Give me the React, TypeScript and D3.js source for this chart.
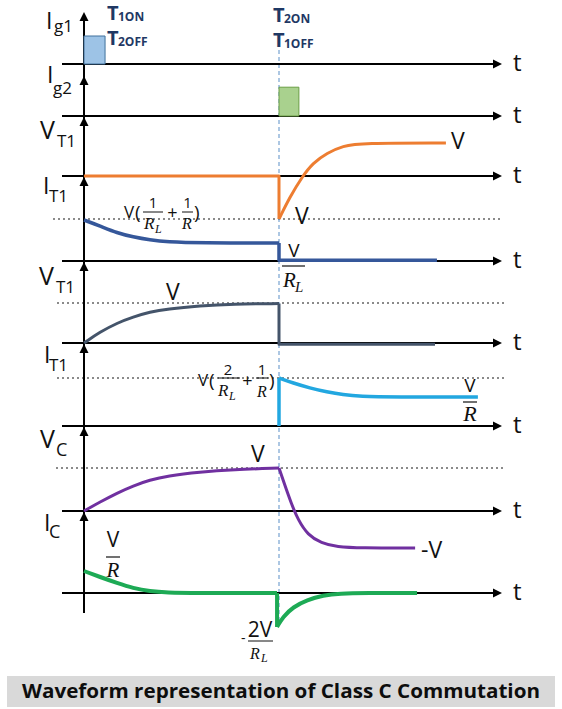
import React from "react";
import * as d3 from "d3";

type Pt = [number, number];

// ---------- data (time in arbitrary units, amplitude normalised) ----------
const panelMain = ["I", "I", "V", "I", "V", "I", "V", "I"];
const panelSub = ["g1", "g2", "T1", "T1", "T1", "T1", "C", "C"];

const switchTime = 5;

const ig1Pulse: Pt[] = [[0, 0], [0, 0.7], [0.54, 0.7], [0.54, 0]];
const ig2Pulse: Pt[] = [[5, 0], [5, 0.72], [5.51, 0.72], [5.51, 0]];

// panel 2: V_T1 (orange)
const vt1OnState: Pt[] = [[0, 0], [5, 0], [5, -1.075]];
const vt1Recovery: Pt[] = [[5, -1.075], [5.28, -0.525], [5.59, -0.025], [5.87, 0.325], [6.23, 0.575], [6.64, 0.75], [7.1, 0.825], [9.28, 0.825]];

// panel 3: I_T1 (blue)
const it1Decay: Pt[] = [[0, 1.025], [0.41, 0.875], [0.85, 0.7], [1.26, 0.6], [1.69, 0.525], [2.13, 0.475], [2.97, 0.45], [5, 0.45]];
const it1Off: Pt[] = [[5, 0.45], [5, 0.02], [9.05, 0.02]];

// panel 4: V_T1 (dark grey)
const vt2Charge: Pt[] = [[0, 0], [0.41, 0.275], [0.85, 0.5], [1.26, 0.65], [1.69, 0.775], [2.13, 0.85], [2.97, 0.93], [3.82, 0.975], [5, 0.985]];
const vt2Off: Pt[] = [[5, 0.985], [5, -0.03], [9.0, -0.03]];

// panel 5: I_T1 (cyan)
const it2Rise: Pt[] = [[5, 0], [5, 1.2]];
const it2Decay: Pt[] = [[5, 1.2], [5.36, 1.075], [5.79, 0.95], [6.23, 0.85], [6.64, 0.78], [7.08, 0.74], [7.92, 0.725], [10.1, 0.725]];

// panel 6: V_C (purple)
const vcCharge: Pt[] = [[0, 0], [0.41, 0.225], [0.85, 0.45], [1.26, 0.63], [1.69, 0.775], [2.13, 0.875], [2.97, 0.975], [3.82, 1.035], [5, 1.075]];
const vcReverse: Pt[] = [[5, 1.075], [5.13, 0.7], [5.31, 0.2], [5.49, -0.225], [5.74, -0.6], [6.08, -0.8], [6.49, -0.9], [7.08, -0.925], [8.49, -0.925]];

// panel 7: I_C (green)
const icCharge: Pt[] = [[0, 0.55], [0.41, 0.4], [0.85, 0.25], [1.26, 0.12], [1.69, 0.04], [2.13, 0.01], [2.8, 0], [4.95, 0]];
const icDrop: Pt[] = [[4.95, 0], [4.95, -0.85]];
const icRecovery: Pt[] = [[4.95, -0.85], [5.1, -0.6], [5.36, -0.35], [5.72, -0.175], [6.13, -0.06], [6.56, -0.01], [7.2, 0], [8.54, 0]];

// reference (dotted) levels: [panel, level]
const refLevels: Pt[] = [[2, -1.075], [4, 1.0], [5, 1.2], [6, 1.075]];

const titleText = "Waveform representation of Class C Commutation";

// ---------- component ----------
const SANS = "'Open Sans', 'DejaVu Sans', sans-serif";
const SERIF = "'Liberation Serif', 'DejaVu Serif', serif";
const NAVY = "#1F3864";
const INK = "#111";

export default function App() {
  const W = 562, H = 709;
  const baselines = [64, 116, 176, 261, 343, 426, 511, 593];
  const x = d3.scaleLinear().domain([0, 10]).range([84, 474]);
  const y = (i: number) => d3.scaleLinear().domain([0, 1]).range([baselines[i], baselines[i] - 40]);
  const path = (i: number, pts: Pt[], curve: any = d3.curveLinear) =>
    d3.line<Pt>().x(d => x(d[0])).y(d => y(i)(d[1])).curve(curve)(pts) || "";

  const axisX0 = 62, axisTip = 502;
  const x0 = x(0);
  const xs = x(switchTime);
  const smooth = d3.curveBasis;

  const series = [
    { i: 2, pts: vt1OnState, c: d3.curveLinear, col: "#ED7D31", w: 3 },
    { i: 2, pts: vt1Recovery, c: smooth, col: "#ED7D31", w: 3 },
    { i: 3, pts: it1Decay, c: smooth, col: "#35579A", w: 3.5 },
    { i: 3, pts: it1Off, c: d3.curveLinear, col: "#35579A", w: 3.5 },
    { i: 4, pts: vt2Charge, c: smooth, col: "#44546A", w: 3 },
    { i: 4, pts: vt2Off, c: d3.curveLinear, col: "#44546A", w: 3 },
    { i: 5, pts: it2Rise, c: d3.curveLinear, col: "#22A7E0", w: 3.5 },
    { i: 5, pts: it2Decay, c: smooth, col: "#22A7E0", w: 3.5 },
    { i: 6, pts: vcCharge, c: smooth, col: "#7030A0", w: 3 },
    { i: 6, pts: vcReverse, c: smooth, col: "#7030A0", w: 3 },
    { i: 7, pts: icCharge, c: smooth, col: "#1DAA55", w: 4 },
    { i: 7, pts: icDrop, c: d3.curveLinear, col: "#1DAA55", w: 4 },
    { i: 7, pts: icRecovery, c: smooth, col: "#1DAA55", w: 4 },
  ];

  const labelPos = [
    { mx: 46, my: 29, sx: 54, sy: 32, ms: 23, ss: 17 },
    { mx: 47, my: 83, sx: 53, sy: 94, ms: 23, ss: 17 },
    { mx: 40, my: 139, sx: 57, sy: 147, ms: 25, ss: 17 },
    { mx: 43, my: 194, sx: 49, sy: 202, ms: 23, ss: 17 },
    { mx: 39, my: 285, sx: 56, sy: 293, ms: 25, ss: 17 },
    { mx: 44, my: 363, sx: 49, sy: 371, ms: 23, ss: 17 },
    { mx: 40, my: 448, sx: 56, sy: 456, ms: 25, ss: 18 },
    { mx: 44, my: 531, sx: 49, sy: 538, ms: 23, ss: 18 },
  ];

  const refExtent: Record<number, [number, number]> = { 2: [53, 500], 4: [57, 505], 5: [57, 505], 6: [56, 505] };

  return (
    <svg width={W} height={H} style={{ position: "absolute", left: 0, top: 0, background: "#fff" }}>
      <rect x={0} y={0} width={W} height={H} fill="#fff" />

      {/* dotted reference levels */}
      {refLevels.map(([i, v], k) => (
        <line key={"r" + k} x1={refExtent[i][0]} x2={refExtent[i][1]} y1={y(i)(v)} y2={y(i)(v)}
          stroke="#8A8A8A" strokeWidth={2} strokeDasharray="2,3" />
      ))}

      {/* switching instant */}
      <line x1={xs} x2={xs} y1={50} y2={626} stroke="#5B8FC7" strokeWidth={1} strokeDasharray="4,3" />

      {/* horizontal axes */}
      {baselines.map((b, i) => (
        <g key={"ax" + i}>
          <line x1={axisX0} x2={axisTip - 6} y1={b} y2={b} stroke="#000" strokeWidth={2} />
          <polygon points={`${axisTip},${b} ${axisTip - 9},${b - 4.5} ${axisTip - 9},${b + 4.5}`} fill="#000" />
          <text x={513} y={b + 7} fontFamily={SANS} fontSize={24} fill={INK}>t</text>
        </g>
      ))}

      {/* vertical axis */}
      <line x1={x0} x2={x0} y1={14} y2={613} stroke="#000" strokeWidth={2} />
      {[12, 76, ...baselines.slice(1, -1).map(b => b + 1)].map((tip, k) => (
        <polygon key={"va" + k} points={`${x0},${tip} ${x0 - 4.5},${tip + 9} ${x0 + 4.5},${tip + 9}`} fill="#000" />
      ))}

      {/* gate pulses */}
      <path d={path(0, ig1Pulse) + "Z"} fill="#9DC3E6" stroke="#41719C" strokeWidth={1} />
      <path d={path(1, ig2Pulse) + "Z"} fill="#A9D18E" stroke="#6A9E45" strokeWidth={1} />

      {/* waveforms */}
      {series.map((s, k) => (
        <path key={"s" + k} d={path(s.i, s.pts, s.c)} fill="none" stroke={s.col} strokeWidth={s.w}
          strokeLinejoin="round" />
      ))}

      {/* panel labels */}
      {panelMain.map((m, i) => (
        <g key={"pl" + i} fontFamily={SANS} fill={INK}>
          <text x={labelPos[i].mx} y={labelPos[i].my} fontSize={labelPos[i].ms}>{m}</text>
          <text x={labelPos[i].sx} y={labelPos[i].sy} fontSize={labelPos[i].ss}>{panelSub[i]}</text>
        </g>
      ))}

      {/* switching annotations */}
      <g fontFamily={SANS} fontWeight="bold" fill={NAVY}>
        <text x={107} y={20} fontSize={20}>T</text>
        <text x={118} y={21} fontSize={12}>1ON</text>
        <text x={107} y={45} fontSize={20}>T</text>
        <text x={118} y={46} fontSize={12}>2OFF</text>
        <text x={273} y={22} fontSize={20}>T</text>
        <text x={284} y={23} fontSize={12}>2ON</text>
        <text x={273} y={47} fontSize={20}>T</text>
        <text x={284} y={48} fontSize={12}>1OFF</text>
      </g>

      {/* value labels */}
      <g fontFamily={SANS} fill={INK} fontSize={23}>
        <text x={451} y={149}>V</text>
        <text x={295} y={224}>V</text>
        <text x={166} y={300}>V</text>
        <text x={251} y={462}>V</text>
        <text x={421} y={558}>-V</text>
      </g>

      {/* V(1/RL + 1/R) */}
      <g fill={INK}>
        <text x={124} y={218} fontFamily={SANS} fontSize={17}>V</text>
        <text x={135} y={219} fontFamily={SANS} fontSize={19}>(</text>
        <text x={153} y={208} fontFamily={SANS} fontSize={15} textAnchor="middle">1</text>
        <line x1={143} x2={163} y1={212} y2={212} stroke={INK} strokeWidth={1} />
        <text x={144} y={229} fontFamily={SERIF} fontStyle="italic" fontSize={17}>R</text>
        <text x={155} y={233} fontFamily={SERIF} fontStyle="italic" fontSize={12}>L</text>
        <text x={172.5} y={219} fontFamily={SANS} fontSize={18} textAnchor="middle">+</text>
        <text x={187.5} y={208} fontFamily={SANS} fontSize={15} textAnchor="middle">1</text>
        <line x1={182} x2={193} y1={212} y2={212} stroke={INK} strokeWidth={1} />
        <text x={182} y={229} fontFamily={SERIF} fontStyle="italic" fontSize={16}>R</text>
        <text x={194} y={219} fontFamily={SANS} fontSize={19}>)</text>
      </g>

      {/* V/RL (blue) */}
      <g fill={INK}>
        <text x={294} y={257} fontFamily={SANS} fontSize={19} textAnchor="middle">V</text>
        <line x1={282} x2={305} y1={266} y2={266} stroke={INK} strokeWidth={1.2} />
        <text x={283} y={287} fontFamily={SERIF} fontStyle="italic" fontSize={21}>R</text>
        <text x={295} y={292} fontFamily={SERIF} fontStyle="italic" fontSize={15}>L</text>
      </g>

      {/* V(2/RL + 1/R) */}
      <g fill={INK}>
        <text x={198} y={386} fontFamily={SANS} fontSize={17}>V</text>
        <text x={209} y={387} fontFamily={SANS} fontSize={19}>(</text>
        <text x={228} y={375} fontFamily={SANS} fontSize={15} textAnchor="middle">2</text>
        <line x1={218} x2={240} y1={378} y2={378} stroke={INK} strokeWidth={1} />
        <text x={218} y={396} fontFamily={SERIF} fontStyle="italic" fontSize={17}>R</text>
        <text x={229} y={400} fontFamily={SERIF} fontStyle="italic" fontSize={12}>L</text>
        <text x={247.5} y={387} fontFamily={SANS} fontSize={18} textAnchor="middle">+</text>
        <text x={262} y={375} fontFamily={SANS} fontSize={15} textAnchor="middle">1</text>
        <line x1={256} x2={268} y1={378} y2={378} stroke={INK} strokeWidth={1} />
        <text x={257} y={397} fontFamily={SERIF} fontStyle="italic" fontSize={16}>R</text>
        <text x={269} y={387} fontFamily={SANS} fontSize={19}>)</text>
      </g>

      {/* V/R (cyan) */}
      <g fill={INK}>
        <text x={470} y={392} fontFamily={SANS} fontSize={19} textAnchor="middle">V</text>
        <line x1={463} x2={477} y1={402} y2={402} stroke={INK} strokeWidth={1.2} />
        <text x={470} y={421} fontFamily={SERIF} fontStyle="italic" fontSize={22} textAnchor="middle">R</text>
      </g>

      {/* V/R (green) */}
      <g fill={INK}>
        <text x={113} y={547} fontFamily={SANS} fontSize={21} textAnchor="middle">V</text>
        <line x1={106} x2={120} y1={557} y2={557} stroke={INK} strokeWidth={1.2} />
        <text x={113} y={577} fontFamily={SERIF} fontStyle="italic" fontSize={21} textAnchor="middle">R</text>
      </g>

      {/* -2V/RL */}
      <g fill={INK}>
        <text x={241} y={643} fontFamily={SANS} fontSize={14}>-</text>
        <text x={260} y={637} fontFamily={SANS} fontSize={21} textAnchor="middle">2V</text>
        <line x1={248} x2={273} y1={641} y2={641} stroke={INK} strokeWidth={1} />
        <text x={250} y={659} fontFamily={SERIF} fontStyle="italic" fontSize={16}>R</text>
        <text x={261} y={662} fontFamily={SERIF} fontStyle="italic" fontSize={12}>L</text>
      </g>

      {/* title */}
      <rect x={7} y={676} width={548} height={31} fill="#D9D9D9" />
      <text x={281} y={698} fontFamily={SANS} fontWeight="bold" fontSize={20} textAnchor="middle"
        textLength={518} lengthAdjust="spacingAndGlyphs" fill="#0d0d0d">{titleText}</text>
    </svg>
  );
}
